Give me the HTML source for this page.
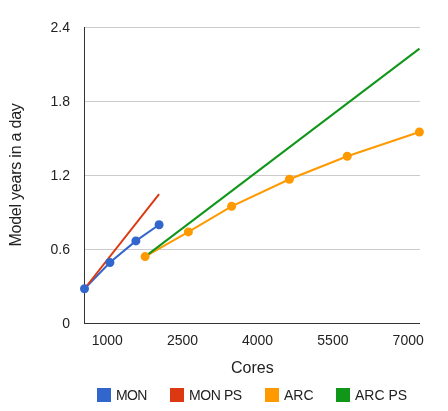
<!DOCTYPE html>
<html>
<head>
<meta charset="utf-8">
<style>
html,body{margin:0;padding:0;background:#fff;}
body{width:448px;height:411px;overflow:hidden;}
svg{display:block;}
text{font-family:"Liberation Sans",Arial,sans-serif;}
</style>
</head>
<body>
<svg width="448" height="411" viewBox="0 0 448 411">
<rect x="0" y="0" width="448" height="411" fill="#ffffff"/>
<!-- gridlines -->
<rect x="84" y="27" width="336" height="1" fill="#cccccc"/>
<rect x="84" y="101" width="336" height="1" fill="#cccccc"/>
<rect x="84" y="175" width="336" height="1" fill="#cccccc"/>
<rect x="84" y="249" width="336" height="1" fill="#cccccc"/>
<!-- baselines -->
<rect x="84" y="323" width="336" height="1" fill="#333333"/>
<rect x="84" y="27" width="1" height="297" fill="#333333"/>
<!-- lines -->
<g fill="none" stroke-width="2">
<path d="M84.5,288.75L109.9,262.5L135.9,240.9L159.1,224.7" stroke="#3366cc"/>
<path d="M84.5,288.75L159.1,194.1" stroke="#dc3912"/>
<path d="M145.1,256.6L188.4,231.9L231.6,206.3L289.4,179.25L347.25,156.25L419.4,132" stroke="#ff9900"/>
<path d="M145.1,256.6L419.5,48.6" stroke="#109618"/>
</g>
<!-- points -->
<g fill="#3366cc">
<circle cx="84.5" cy="288.75" r="4.5"/>
<circle cx="109.9" cy="262.5" r="4.5"/>
<circle cx="135.9" cy="240.9" r="4.5"/>
<circle cx="159.1" cy="224.7" r="4.5"/>
</g>
<g fill="#ff9900">
<circle cx="145.1" cy="256.6" r="4.5"/>
<circle cx="188.4" cy="231.9" r="4.5"/>
<circle cx="231.6" cy="206.3" r="4.5"/>
<circle cx="289.4" cy="179.25" r="4.5"/>
<circle cx="347.25" cy="156.25" r="4.5"/>
<circle cx="419.4" cy="132" r="4.5"/>
</g>
<!-- y labels -->
<g font-size="14" fill="#222222" text-anchor="end">
<text x="70" y="32">2.4</text>
<text x="70" y="106">1.8</text>
<text x="70" y="180">1.2</text>
<text x="70" y="254">0.6</text>
<text x="70" y="328">0</text>
</g>
<!-- x labels -->
<g font-size="14" fill="#222222" text-anchor="middle">
<text x="107.3" y="345">1000</text>
<text x="182.5" y="345">2500</text>
<text x="257.6" y="345">4000</text>
<text x="332.9" y="345">5500</text>
<text x="408.2" y="345">7000</text>
</g>
<!-- axis titles -->
<text x="252.4" y="372.5" font-size="16" fill="#222222" text-anchor="middle">Cores</text>
<text transform="translate(21,175) rotate(-90)" x="0" y="0" font-size="16" fill="#222222" text-anchor="middle" letter-spacing="-0.22">Model years in a day</text>
<!-- legend -->
<rect x="97" y="388" width="14" height="14" fill="#3366cc"/>
<text x="116" y="400" font-size="14" fill="#222222" textLength="31.4">MON</text>
<rect x="170" y="388" width="14" height="14" fill="#dc3912"/>
<text x="189" y="400" font-size="14" fill="#222222" textLength="53.2">MON PS</text>
<rect x="265" y="388" width="14" height="14" fill="#ff9900"/>
<text x="284" y="400" font-size="14" fill="#222222">ARC</text>
<rect x="336" y="388" width="14" height="14" fill="#109618"/>
<text x="355" y="400" font-size="14" fill="#222222">ARC PS</text>
</svg>
</body>
</html>
